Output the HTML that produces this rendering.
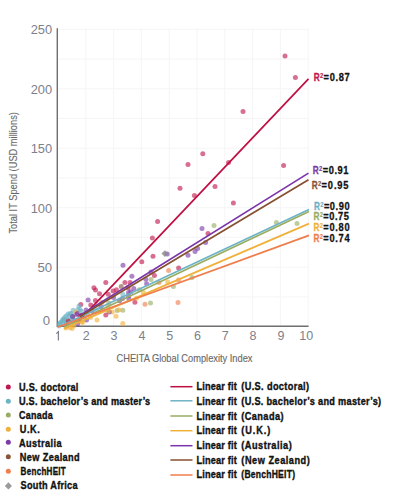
<!DOCTYPE html><html><head><meta charset="utf-8"><style>html,body{margin:0;padding:0;background:#fff;width:395px;height:493px;overflow:hidden}svg{display:block}text{font-family:"Liberation Sans",sans-serif}</style></head><body><svg width="395" height="493" viewBox="0 0 395 493"><rect width="395" height="493" fill="#fff"/><g stroke="#f5f5f5" stroke-width="1"><line x1="58" y1="296.9" x2="308.6" y2="296.9"/><line x1="58" y1="267.2" x2="308.6" y2="267.2"/><line x1="58" y1="237.4" x2="308.6" y2="237.4"/><line x1="58" y1="207.7" x2="308.6" y2="207.7"/><line x1="58" y1="178.0" x2="308.6" y2="178.0"/><line x1="58" y1="148.2" x2="308.6" y2="148.2"/><line x1="58" y1="118.5" x2="308.6" y2="118.5"/><line x1="58" y1="88.8" x2="308.6" y2="88.8"/><line x1="58" y1="59.1" x2="308.6" y2="59.1"/><line x1="58" y1="29.4" x2="308.6" y2="29.4"/><line x1="85.8" y1="28.4" x2="85.8" y2="326"/><line x1="113.6" y1="28.4" x2="113.6" y2="326"/><line x1="141.4" y1="28.4" x2="141.4" y2="326"/><line x1="169.2" y1="28.4" x2="169.2" y2="326"/><line x1="197.0" y1="28.4" x2="197.0" y2="326"/><line x1="224.8" y1="28.4" x2="224.8" y2="326"/><line x1="252.6" y1="28.4" x2="252.6" y2="326"/><line x1="280.4" y1="28.4" x2="280.4" y2="326"/><line x1="308.2" y1="28.4" x2="308.2" y2="326"/></g><path d="M57.3 28.2 V326.3 H308.6" fill="none" stroke="#6e6e6e" stroke-width="1.4"/><g fill="#7d818c" font-size="13.2"><text x="52.2" y="272.2" text-anchor="end">50</text><text x="52.2" y="212.7" text-anchor="end" textLength="21.5" lengthAdjust="spacingAndGlyphs">100</text><text x="52.2" y="153.2" text-anchor="end" textLength="21.5" lengthAdjust="spacingAndGlyphs">150</text><text x="52.2" y="93.8" text-anchor="end" textLength="21.5" lengthAdjust="spacingAndGlyphs">200</text><text x="52.2" y="34.4" text-anchor="end" textLength="21.5" lengthAdjust="spacingAndGlyphs">250</text><text x="50.2" y="324.6" text-anchor="end">0</text></g><g fill="#7d818c" font-size="12.5"><path d="M56.3 333.6 L58.4 331.6 V340.4" fill="none" stroke="#7d818c" stroke-width="1.25" stroke-linejoin="miter"/><text x="86.3" y="340.4" text-anchor="middle">2</text><text x="114.1" y="340.4" text-anchor="middle">3</text><text x="141.9" y="340.4" text-anchor="middle">4</text><text x="169.7" y="340.4" text-anchor="middle">5</text><text x="197.5" y="340.4" text-anchor="middle">6</text><text x="225.3" y="340.4" text-anchor="middle">7</text><text x="253.1" y="340.4" text-anchor="middle">8</text><text x="280.9" y="340.4" text-anchor="middle">9</text><text x="306.2" y="340.4" text-anchor="middle">10</text></g><text x="116.5" y="361.6" font-size="10.6" fill="#6a6a6a" stroke="#6a6a6a" stroke-width="0.15" textLength="136" lengthAdjust="spacingAndGlyphs">CHEITA Global Complexity Index</text><text transform="translate(16.6 233.6) rotate(-90)" x="0" y="0" font-size="10" fill="#6a6a6a" stroke="#6a6a6a" stroke-width="0.12" textLength="121.5" lengthAdjust="spacingAndGlyphs">Total IT Spend (USD millions)</text><g><circle cx="285.0" cy="56.0" r="2.5" fill="#c0174d" fill-opacity="0.62"/><circle cx="295.4" cy="77.4" r="2.5" fill="#c0174d" fill-opacity="0.62"/><circle cx="243.0" cy="111.5" r="2.5" fill="#c0174d" fill-opacity="0.62"/><circle cx="202.8" cy="153.8" r="2.5" fill="#c0174d" fill-opacity="0.62"/><circle cx="188.0" cy="164.6" r="2.5" fill="#c0174d" fill-opacity="0.62"/><circle cx="283.6" cy="165.4" r="2.5" fill="#c0174d" fill-opacity="0.62"/><circle cx="228.5" cy="162.5" r="2.5" fill="#c0174d" fill-opacity="0.62"/><circle cx="180.0" cy="188.2" r="2.5" fill="#c0174d" fill-opacity="0.62"/><circle cx="215.0" cy="186.5" r="2.5" fill="#c0174d" fill-opacity="0.62"/><circle cx="194.4" cy="195.4" r="2.5" fill="#c0174d" fill-opacity="0.62"/><circle cx="157.6" cy="221.6" r="2.5" fill="#c0174d" fill-opacity="0.62"/><circle cx="152.4" cy="238.0" r="2.5" fill="#c0174d" fill-opacity="0.62"/><circle cx="153.0" cy="256.3" r="2.5" fill="#c0174d" fill-opacity="0.62"/><circle cx="233.4" cy="203.0" r="2.5" fill="#c0174d" fill-opacity="0.62"/><circle cx="208.0" cy="233.4" r="2.5" fill="#c0174d" fill-opacity="0.62"/><circle cx="202.0" cy="228.6" r="2.5" fill="#7a3aa8" fill-opacity="0.62"/><circle cx="214.0" cy="225.6" r="2.5" fill="#98ad62" fill-opacity="0.62"/><circle cx="205.6" cy="242.6" r="2.5" fill="#7a3aa8" fill-opacity="0.62"/><circle cx="197.6" cy="248.6" r="2.5" fill="#7a3aa8" fill-opacity="0.62"/><circle cx="195.0" cy="251.6" r="2.5" fill="#7a3aa8" fill-opacity="0.62"/><circle cx="188.0" cy="255.3" r="2.5" fill="#7a3aa8" fill-opacity="0.62"/><circle cx="276.4" cy="222.4" r="2.5" fill="#98ad62" fill-opacity="0.62"/><circle cx="297.0" cy="223.4" r="2.5" fill="#98ad62" fill-opacity="0.62"/><circle cx="151.0" cy="272.0" r="2.5" fill="#7a3aa8" fill-opacity="0.62"/><circle cx="154.4" cy="275.4" r="2.5" fill="#c0174d" fill-opacity="0.62"/><circle cx="168.6" cy="270.4" r="2.5" fill="#ef7e4c" fill-opacity="0.62"/><circle cx="178.6" cy="268.0" r="2.5" fill="#c0174d" fill-opacity="0.62"/><circle cx="151.0" cy="279.4" r="2.5" fill="#98ad62" fill-opacity="0.62"/><circle cx="159.0" cy="282.4" r="2.5" fill="#ef7e4c" fill-opacity="0.62"/><circle cx="167.6" cy="282.0" r="2.5" fill="#f0b13a" fill-opacity="0.62"/><circle cx="173.4" cy="286.6" r="2.5" fill="#98ad62" fill-opacity="0.62"/><circle cx="178.6" cy="280.0" r="2.5" fill="#ef7e4c" fill-opacity="0.62"/><circle cx="192.0" cy="277.4" r="2.5" fill="#98ad62" fill-opacity="0.62"/><circle cx="150.5" cy="303.0" r="2.5" fill="#98ad62" fill-opacity="0.62"/><circle cx="178.0" cy="302.4" r="2.5" fill="#ef7e4c" fill-opacity="0.62"/><circle cx="123.0" cy="265.3" r="2.5" fill="#7a3aa8" fill-opacity="0.62"/><circle cx="141.8" cy="261.8" r="2.5" fill="#c0174d" fill-opacity="0.62"/><circle cx="131.9" cy="276.3" r="2.5" fill="#7a3aa8" fill-opacity="0.62"/><circle cx="105.8" cy="282.4" r="2.5" fill="#c0174d" fill-opacity="0.62"/><circle cx="124.9" cy="282.4" r="2.5" fill="#c0174d" fill-opacity="0.62"/><circle cx="130.1" cy="282.4" r="2.5" fill="#c0174d" fill-opacity="0.62"/><circle cx="121.2" cy="286.5" r="2.5" fill="#87553a" fill-opacity="0.62"/><circle cx="113.1" cy="291.0" r="2.5" fill="#c0174d" fill-opacity="0.62"/><circle cx="116.4" cy="289.7" r="2.5" fill="#c0174d" fill-opacity="0.62"/><circle cx="108.2" cy="294.2" r="2.5" fill="#c0174d" fill-opacity="0.62"/><circle cx="128.1" cy="287.7" r="2.5" fill="#c0174d" fill-opacity="0.62"/><circle cx="128.5" cy="292.6" r="2.5" fill="#7a3aa8" fill-opacity="0.62"/><circle cx="113.5" cy="297.4" r="2.5" fill="#7a3aa8" fill-opacity="0.62"/><circle cx="128.9" cy="299.0" r="2.5" fill="#7a3aa8" fill-opacity="0.62"/><circle cx="122.8" cy="294.2" r="2.5" fill="#6cb3c6" fill-opacity="0.62"/><circle cx="133.8" cy="288.5" r="2.5" fill="#7a3aa8" fill-opacity="0.62"/><circle cx="119.6" cy="300.7" r="2.5" fill="#7a3aa8" fill-opacity="0.62"/><circle cx="145.8" cy="279.2" r="2.5" fill="#7a3aa8" fill-opacity="0.62"/><circle cx="146.6" cy="283.7" r="2.5" fill="#7a3aa8" fill-opacity="0.62"/><circle cx="130.8" cy="291.8" r="2.5" fill="#7a3aa8" fill-opacity="0.62"/><circle cx="143.4" cy="292.6" r="2.5" fill="#f0b13a" fill-opacity="0.62"/><circle cx="139.3" cy="289.7" r="2.5" fill="#98ad62" fill-opacity="0.62"/><circle cx="134.9" cy="302.3" r="2.5" fill="#c0174d" fill-opacity="0.62"/><circle cx="145.0" cy="304.2" r="2.5" fill="#ef7e4c" fill-opacity="0.62"/><circle cx="136.5" cy="298.3" r="2.5" fill="#f0b13a" fill-opacity="0.62"/><circle cx="116.0" cy="316.3" r="2.5" fill="#f0b13a" fill-opacity="0.62"/><circle cx="122.8" cy="323.5" r="2.5" fill="#f0b13a" fill-opacity="0.62"/><circle cx="117.1" cy="310.6" r="2.5" fill="#98ad62" fill-opacity="0.62"/><circle cx="122.8" cy="310.2" r="2.5" fill="#98ad62" fill-opacity="0.62"/><circle cx="119.0" cy="309.8" r="2.5" fill="#f0b13a" fill-opacity="0.62"/><circle cx="112.2" cy="312.1" r="2.5" fill="#f0b13a" fill-opacity="0.62"/><circle cx="108.0" cy="306.0" r="2.5" fill="#f0b13a" fill-opacity="0.62"/><circle cx="109.2" cy="312.0" r="2.5" fill="#7a3aa8" fill-opacity="0.62"/><circle cx="105.8" cy="315.1" r="2.5" fill="#c0174d" fill-opacity="0.62"/><circle cx="122.5" cy="298.4" r="2.5" fill="#7a3aa8" fill-opacity="0.62"/><circle cx="128.5" cy="295.8" r="2.5" fill="#7a3aa8" fill-opacity="0.62"/><circle cx="93.9" cy="287.8" r="2.5" fill="#c0174d" fill-opacity="0.62"/><circle cx="95.5" cy="290.0" r="2.5" fill="#c0174d" fill-opacity="0.62"/><circle cx="99.5" cy="293.8" r="2.5" fill="#c0174d" fill-opacity="0.62"/><circle cx="88.1" cy="300.1" r="2.5" fill="#7a3aa8" fill-opacity="0.62"/><circle cx="95.4" cy="300.5" r="2.5" fill="#c0174d" fill-opacity="0.62"/><circle cx="80.8" cy="304.4" r="2.5" fill="#c0174d" fill-opacity="0.62"/><circle cx="90.8" cy="305.1" r="2.5" fill="#c0174d" fill-opacity="0.62"/><circle cx="101.9" cy="302.6" r="2.5" fill="#ef7e4c" fill-opacity="0.62"/><circle cx="101.1" cy="307.0" r="2.5" fill="#7a3aa8" fill-opacity="0.62"/><circle cx="86.1" cy="309.9" r="2.5" fill="#7a3aa8" fill-opacity="0.62"/><circle cx="92.2" cy="311.0" r="2.5" fill="#7a3aa8" fill-opacity="0.62"/><circle cx="108.8" cy="303.0" r="2.5" fill="#98ad62" fill-opacity="0.62"/><circle cx="80.0" cy="309.5" r="2.5" fill="#6cb3c6" fill-opacity="0.62"/><circle cx="87.3" cy="313.5" r="2.5" fill="#ef7e4c" fill-opacity="0.62"/><circle cx="81.6" cy="315.0" r="2.5" fill="#7a3aa8" fill-opacity="0.62"/><circle cx="90.5" cy="317.6" r="2.5" fill="#f0b13a" fill-opacity="0.62"/><circle cx="86.5" cy="320.0" r="2.5" fill="#7a3aa8" fill-opacity="0.62"/><circle cx="97.0" cy="320.0" r="2.5" fill="#f0b13a" fill-opacity="0.62"/><circle cx="108.4" cy="311.0" r="2.5" fill="#f0b13a" fill-opacity="0.62"/><circle cx="97.0" cy="310.3" r="2.5" fill="#6cb3c6" fill-opacity="0.62"/><circle cx="82.4" cy="322.4" r="2.5" fill="#f0b13a" fill-opacity="0.62"/><circle cx="79.0" cy="306.0" r="2.5" fill="#6cb3c6" fill-opacity="0.62"/><circle cx="73.2" cy="310.2" r="2.5" fill="#6cb3c6" fill-opacity="0.62"/><circle cx="77.8" cy="309.6" r="2.5" fill="#6cb3c6" fill-opacity="0.62"/><circle cx="81.3" cy="311.3" r="2.5" fill="#6cb3c6" fill-opacity="0.62"/><circle cx="76.0" cy="312.0" r="2.5" fill="#f0b13a" fill-opacity="0.62"/><circle cx="76.7" cy="314.4" r="2.5" fill="#7a3aa8" fill-opacity="0.62"/><circle cx="71.4" cy="313.6" r="2.5" fill="#6cb3c6" fill-opacity="0.62"/><circle cx="66.1" cy="316.0" r="2.5" fill="#6cb3c6" fill-opacity="0.62"/><circle cx="63.8" cy="319.3" r="2.5" fill="#6cb3c6" fill-opacity="0.62"/><circle cx="64.2" cy="320.0" r="2.5" fill="#98ad62" fill-opacity="0.62"/><circle cx="72.6" cy="317.0" r="2.5" fill="#c0174d" fill-opacity="0.62"/><circle cx="60.8" cy="322.3" r="2.5" fill="#6cb3c6" fill-opacity="0.62"/><circle cx="69.1" cy="321.6" r="2.5" fill="#ef7e4c" fill-opacity="0.62"/><circle cx="66.1" cy="323.1" r="2.5" fill="#6cb3c6" fill-opacity="0.62"/><circle cx="77.5" cy="323.9" r="2.5" fill="#7a3aa8" fill-opacity="0.62"/><circle cx="73.7" cy="326.1" r="2.5" fill="#f0b13a" fill-opacity="0.62"/><circle cx="69.9" cy="327.6" r="2.5" fill="#f0b13a" fill-opacity="0.62"/><circle cx="66.9" cy="325.8" r="2.5" fill="#7a3aa8" fill-opacity="0.62"/><circle cx="82.0" cy="321.6" r="2.5" fill="#f0b13a" fill-opacity="0.62"/><circle cx="81.3" cy="315.5" r="2.5" fill="#c0174d" fill-opacity="0.62"/><circle cx="78.6" cy="320.0" r="2.5" fill="#ef7e4c" fill-opacity="0.62"/><circle cx="70.3" cy="313.5" r="2.5" fill="#6cb3c6" fill-opacity="0.62"/><circle cx="72.8" cy="316.7" r="2.5" fill="#6cb3c6" fill-opacity="0.62"/><circle cx="62.7" cy="319.5" r="2.5" fill="#6cb3c6" fill-opacity="0.62"/><circle cx="60.1" cy="323.0" r="2.5" fill="#6cb3c6" fill-opacity="0.62"/><circle cx="167.2" cy="254.1" r="2.5" fill="#7a3aa8" fill-opacity="0.62"/><rect x="162.5" y="251.2" width="4.8" height="4.8" fill="#8a8a90" fill-opacity="0.85" transform="rotate(45 164.9 253.6)"/><circle cx="60.0" cy="324.0" r="2.5" fill="#6cb3c6" fill-opacity="0.62"/><circle cx="62.5" cy="321.0" r="2.5" fill="#6cb3c6" fill-opacity="0.62"/><circle cx="64.5" cy="317.5" r="2.5" fill="#6cb3c6" fill-opacity="0.62"/><circle cx="67.5" cy="319.5" r="2.5" fill="#6cb3c6" fill-opacity="0.62"/><circle cx="69.5" cy="316.0" r="2.5" fill="#6cb3c6" fill-opacity="0.62"/><circle cx="71.5" cy="319.0" r="2.5" fill="#6cb3c6" fill-opacity="0.62"/><circle cx="68.0" cy="314.0" r="2.5" fill="#6cb3c6" fill-opacity="0.62"/><circle cx="63.5" cy="324.0" r="2.5" fill="#6cb3c6" fill-opacity="0.62"/><circle cx="66.5" cy="322.5" r="2.5" fill="#6cb3c6" fill-opacity="0.62"/><circle cx="72.5" cy="321.5" r="2.5" fill="#6cb3c6" fill-opacity="0.62"/><circle cx="59.0" cy="326.0" r="2.5" fill="#6cb3c6" fill-opacity="0.62"/><circle cx="66.0" cy="328.0" r="2.5" fill="#f0b13a" fill-opacity="0.62"/><circle cx="72.0" cy="328.5" r="2.5" fill="#f0b13a" fill-opacity="0.62"/><circle cx="72.7" cy="316.6" r="2.5" fill="#7a3aa8" fill-opacity="0.62"/><circle cx="68.3" cy="321.0" r="2.5" fill="#c0174d" fill-opacity="0.62"/><circle cx="77.2" cy="313.4" r="2.5" fill="#7a3aa8" fill-opacity="0.62"/><circle cx="80.3" cy="316.6" r="2.5" fill="#c0174d" fill-opacity="0.62"/></g><line x1="78.0" y1="321.9" x2="308.5" y2="78.9" stroke="#bf0f42" stroke-width="1.7"/><line x1="64.0" y1="324.4" x2="309" y2="209.6" stroke="#6cb3c6" stroke-width="1.7"/><line x1="64.0" y1="327.2" x2="309" y2="211.6" stroke="#98ad62" stroke-width="1.7"/><line x1="64.0" y1="328.6" x2="309" y2="223.6" stroke="#f0b13a" stroke-width="1.7"/><line x1="80.0" y1="315.5" x2="308.5" y2="173.1" stroke="#7b35ab" stroke-width="1.7"/><line x1="80.0" y1="316.4" x2="308.5" y2="179.8" stroke="#85502f" stroke-width="1.7"/><line x1="57.8" y1="327.0" x2="309" y2="235.4" stroke="#ef7e4c" stroke-width="1.7"/><g transform="translate(313.70 81.00) scale(0.8 1)"><text font-size="10.3" font-weight="bold" fill="#c0174d" stroke="#c0174d" stroke-width="0.3">R</text></g><text x="320.00" y="77.80" font-size="6.8" font-weight="bold" fill="#c0174d" stroke="#c0174d" stroke-width="0.2" textLength="3.2" lengthAdjust="spacingAndGlyphs">2</text><g transform="translate(323.60 81.00) scale(0.9 1)"><text font-size="10.3" font-weight="bold" fill="#111" stroke="#111" stroke-width="0.3" textLength="28.89" lengthAdjust="spacing">=0.87</text></g><g transform="translate(312.80 173.80) scale(0.8 1)"><text font-size="10.3" font-weight="bold" fill="#7a3aa8" stroke="#7a3aa8" stroke-width="0.3">R</text></g><text x="319.10" y="170.60" font-size="6.8" font-weight="bold" fill="#7a3aa8" stroke="#7a3aa8" stroke-width="0.2" textLength="3.2" lengthAdjust="spacingAndGlyphs">2</text><g transform="translate(322.70 173.80) scale(0.9 1)"><text font-size="10.3" font-weight="bold" fill="#111" stroke="#111" stroke-width="0.3" textLength="28.67" lengthAdjust="spacing">=0.91</text></g><g transform="translate(311.70 188.90) scale(0.8 1)"><text font-size="10.3" font-weight="bold" fill="#87553a" stroke="#87553a" stroke-width="0.3">R</text></g><text x="318.00" y="185.70" font-size="6.8" font-weight="bold" fill="#87553a" stroke="#87553a" stroke-width="0.2" textLength="3.2" lengthAdjust="spacingAndGlyphs">2</text><g transform="translate(321.60 188.90) scale(0.9 1)"><text font-size="10.3" font-weight="bold" fill="#111" stroke="#111" stroke-width="0.3" textLength="29.89" lengthAdjust="spacing">=0.95</text></g><g transform="translate(314.00 210.10) scale(0.8 1)"><text font-size="10.3" font-weight="bold" fill="#6cb3c6" stroke="#6cb3c6" stroke-width="0.3">R</text></g><text x="320.30" y="206.90" font-size="6.8" font-weight="bold" fill="#6cb3c6" stroke="#6cb3c6" stroke-width="0.2" textLength="3.2" lengthAdjust="spacingAndGlyphs">2</text><g transform="translate(323.90 210.10) scale(0.9 1)"><text font-size="10.3" font-weight="bold" fill="#111" stroke="#111" stroke-width="0.3" textLength="28.56" lengthAdjust="spacing">=0.90</text></g><g transform="translate(313.40 220.40) scale(0.8 1)"><text font-size="10.3" font-weight="bold" fill="#98ad62" stroke="#98ad62" stroke-width="0.3">R</text></g><text x="319.70" y="217.20" font-size="6.8" font-weight="bold" fill="#98ad62" stroke="#98ad62" stroke-width="0.2" textLength="3.2" lengthAdjust="spacingAndGlyphs">2</text><g transform="translate(323.30 220.40) scale(0.9 1)"><text font-size="10.3" font-weight="bold" fill="#111" stroke="#111" stroke-width="0.3" textLength="28.56" lengthAdjust="spacing">=0.75</text></g><g transform="translate(313.40 230.80) scale(0.8 1)"><text font-size="10.3" font-weight="bold" fill="#f0b13a" stroke="#f0b13a" stroke-width="0.3">R</text></g><text x="319.70" y="227.60" font-size="6.8" font-weight="bold" fill="#f0b13a" stroke="#f0b13a" stroke-width="0.2" textLength="3.2" lengthAdjust="spacingAndGlyphs">2</text><g transform="translate(323.30 230.80) scale(0.9 1)"><text font-size="10.3" font-weight="bold" fill="#111" stroke="#111" stroke-width="0.3" textLength="29.22" lengthAdjust="spacing">=0.80</text></g><g transform="translate(313.40 242.20) scale(0.8 1)"><text font-size="10.3" font-weight="bold" fill="#ef7e4c" stroke="#ef7e4c" stroke-width="0.3">R</text></g><text x="319.70" y="239.00" font-size="6.8" font-weight="bold" fill="#ef7e4c" stroke="#ef7e4c" stroke-width="0.2" textLength="3.2" lengthAdjust="spacingAndGlyphs">2</text><g transform="translate(323.30 242.20) scale(0.9 1)"><text font-size="10.3" font-weight="bold" fill="#111" stroke="#111" stroke-width="0.3" textLength="29.22" lengthAdjust="spacing">=0.74</text></g><circle cx="8.3" cy="386.9" r="2.5" fill="#c0174d"/><g transform="translate(19.00 391.30) scale(0.9 1)"><text x="0" y="0" font-size="10.2" textLength="66.00" lengthAdjust="spacing" font-weight="bold" fill="#111" stroke="#111" stroke-width="0.35">U.S. doctoral</text></g><circle cx="8.3" cy="401.3" r="2.5" fill="#6cb3c6"/><g transform="translate(19.00 405.29) scale(0.9 1)"><text x="0" y="0" font-size="10.2" textLength="145.78" lengthAdjust="spacing" font-weight="bold" fill="#111" stroke="#111" stroke-width="0.35">U.S. bachelor’s and master’s</text></g><circle cx="8.3" cy="415.0" r="2.5" fill="#98ad62"/><g transform="translate(19.00 419.28) scale(0.8782287421896222 1)"><text x="0" y="0" font-size="10.2" textLength="38.49" lengthAdjust="spacing" font-weight="bold" fill="#111" stroke="#111" stroke-width="0.35">Canada</text></g><circle cx="8.3" cy="429.3" r="2.5" fill="#f0b13a"/><g transform="translate(19.70 433.27) scale(0.9 1)"><text x="0" y="0" font-size="10.2" textLength="22.44" lengthAdjust="spacing" font-weight="bold" fill="#111" stroke="#111" stroke-width="0.35">U.K.</text></g><circle cx="8.3" cy="442.3" r="2.5" fill="#7a3aa8"/><g transform="translate(19.00 447.26) scale(0.9 1)"><text x="0" y="0" font-size="10.2" textLength="47.33" lengthAdjust="spacing" font-weight="bold" fill="#111" stroke="#111" stroke-width="0.35">Australia</text></g><circle cx="8.3" cy="456.8" r="2.5" fill="#87553a"/><g transform="translate(19.70 461.25) scale(0.9 1)"><text x="0" y="0" font-size="10.2" textLength="66.67" lengthAdjust="spacing" font-weight="bold" fill="#111" stroke="#111" stroke-width="0.35">New Zealand</text></g><circle cx="8.3" cy="471.2" r="2.5" fill="#ef7e4c"/><g transform="translate(20.60 475.24) scale(0.7917997791682001 1)"><text x="0" y="0" font-size="10.2" textLength="57.09" lengthAdjust="spacing" font-weight="bold" fill="#111" stroke="#111" stroke-width="0.35">BenchHEIT</text></g><rect x="5.9" y="483.4" width="5" height="5" fill="#9a9a9a" transform="rotate(45 8.4 485.9)"/><g transform="translate(20.60 489.23) scale(0.9 1)"><text x="0" y="0" font-size="10.2" textLength="63.22" lengthAdjust="spacing" font-weight="bold" fill="#111" stroke="#111" stroke-width="0.35">South Africa</text></g><line x1="170.4" y1="386.7" x2="192.5" y2="386.7" stroke="#bf0f42" stroke-width="1.5"/><g transform="translate(196.50 389.90) scale(0.8988798512665581 1)"><text x="0" y="0" font-size="10.2" textLength="44.94" lengthAdjust="spacing" font-weight="bold" fill="#111" stroke="#111" stroke-width="0.35">Linear fit</text></g><g transform="translate(241.30 389.90) scale(0.9 1)"><text x="0" y="0" font-size="10.2" textLength="75.33" lengthAdjust="spacing" font-weight="bold" fill="#111" stroke="#111" stroke-width="0.35">(U.S. doctoral)</text></g><line x1="170.4" y1="400.8" x2="192.5" y2="400.8" stroke="#6cb3c6" stroke-width="1.5"/><g transform="translate(196.50 405.10) scale(0.8988798512665581 1)"><text x="0" y="0" font-size="10.2" textLength="44.94" lengthAdjust="spacing" font-weight="bold" fill="#111" stroke="#111" stroke-width="0.35">Linear fit</text></g><g transform="translate(241.30 405.10) scale(0.9 1)"><text x="0" y="0" font-size="10.2" textLength="155.44" lengthAdjust="spacing" font-weight="bold" fill="#111" stroke="#111" stroke-width="0.35">(U.S. bachelor’s and master’s)</text></g><line x1="170.4" y1="416.0" x2="192.5" y2="416.0" stroke="#98ad62" stroke-width="1.5"/><g transform="translate(196.50 419.60) scale(0.8988798512665581 1)"><text x="0" y="0" font-size="10.2" textLength="44.94" lengthAdjust="spacing" font-weight="bold" fill="#111" stroke="#111" stroke-width="0.35">Linear fit</text></g><g transform="translate(241.30 419.60) scale(0.9 1)"><text x="0" y="0" font-size="10.2" textLength="46.89" lengthAdjust="spacing" font-weight="bold" fill="#111" stroke="#111" stroke-width="0.35">(Canada)</text></g><line x1="170.4" y1="430.7" x2="192.5" y2="430.7" stroke="#f0b13a" stroke-width="1.5"/><g transform="translate(196.50 434.00) scale(0.8988798512665581 1)"><text x="0" y="0" font-size="10.2" textLength="44.94" lengthAdjust="spacing" font-weight="bold" fill="#111" stroke="#111" stroke-width="0.35">Linear fit</text></g><g transform="translate(241.30 434.00) scale(0.9 1)"><text x="0" y="0" font-size="10.2" textLength="32.22" lengthAdjust="spacing" font-weight="bold" fill="#111" stroke="#111" stroke-width="0.35">(U.K.)</text></g><line x1="170.4" y1="445.7" x2="192.5" y2="445.7" stroke="#7b35ab" stroke-width="1.5"/><g transform="translate(196.50 449.10) scale(0.8988798512665581 1)"><text x="0" y="0" font-size="10.2" textLength="44.94" lengthAdjust="spacing" font-weight="bold" fill="#111" stroke="#111" stroke-width="0.35">Linear fit</text></g><g transform="translate(241.30 449.10) scale(0.9 1)"><text x="0" y="0" font-size="10.2" textLength="56.00" lengthAdjust="spacing" font-weight="bold" fill="#111" stroke="#111" stroke-width="0.35">(Australia)</text></g><line x1="170.4" y1="460.0" x2="192.5" y2="460.0" stroke="#85502f" stroke-width="1.5"/><g transform="translate(196.50 463.70) scale(0.8988798512665581 1)"><text x="0" y="0" font-size="10.2" textLength="44.94" lengthAdjust="spacing" font-weight="bold" fill="#111" stroke="#111" stroke-width="0.35">Linear fit</text></g><g transform="translate(241.30 463.70) scale(0.9 1)"><text x="0" y="0" font-size="10.2" textLength="76.11" lengthAdjust="spacing" font-weight="bold" fill="#111" stroke="#111" stroke-width="0.35">(New Zealand)</text></g><line x1="170.4" y1="475.0" x2="192.5" y2="475.0" stroke="#ef7e4c" stroke-width="1.5"/><g transform="translate(196.50 478.20) scale(0.8988798512665581 1)"><text x="0" y="0" font-size="10.2" textLength="44.94" lengthAdjust="spacing" font-weight="bold" fill="#111" stroke="#111" stroke-width="0.35">Linear fit</text></g><g transform="translate(241.30 478.20) scale(0.8384557500408962 1)"><text x="0" y="0" font-size="10.2" textLength="64.05" lengthAdjust="spacing" font-weight="bold" fill="#111" stroke="#111" stroke-width="0.35">(BenchHEIT)</text></g></svg></body></html>
